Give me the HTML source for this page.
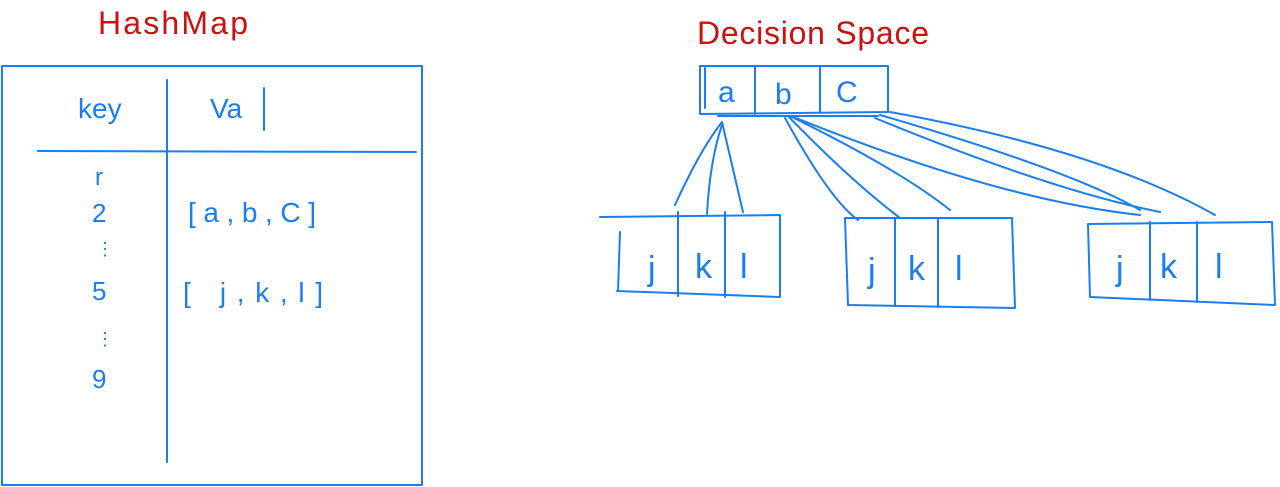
<!DOCTYPE html>
<html><head><meta charset="utf-8"><style>
html,body{margin:0;padding:0;background:#fff;width:1280px;height:487px;overflow:hidden}
svg{display:block}
text{font-family:"Liberation Sans",sans-serif}
</style></head><body>
<svg width="1280" height="487" viewBox="0 0 1280 487" xmlns="http://www.w3.org/2000/svg">
<g fill="none" stroke="#1a7ef0" stroke-width="2" stroke-linecap="round" stroke-linejoin="round">
<rect x="2" y="66" width="420" height="419"/>
<line x1="38" y1="151" x2="416" y2="152"/>
<line x1="167" y1="80" x2="167" y2="462"/>
<line x1="264" y1="88" x2="264" y2="130"/>
<path d="M700 66 L888 66 L888 112 L700 114 Z"/>
<line x1="705" y1="68" x2="705" y2="108"/>
<line x1="755" y1="66" x2="755" y2="114"/>
<line x1="820" y1="66" x2="820" y2="113"/>
<path d="M600 217 L780 215 L780 297 L617 291 M620 232 L618 291"/>
<line x1="678" y1="212" x2="678" y2="296"/>
<line x1="725" y1="212" x2="725" y2="297"/>
<path d="M845 218 L1012 218 L1015 308 L848 305 Z"/>
<line x1="895" y1="218" x2="895" y2="306"/>
<line x1="938" y1="218" x2="938" y2="307"/>
<path d="M1088 224 L1272 222 L1275 305 L1090 297 Z"/>
<line x1="1150" y1="222" x2="1150" y2="300"/>
<line x1="1197" y1="222" x2="1197" y2="302"/>
<path d="M718 116 L878 116"/>
<path d="M675 205 Q700 150 722 122 L743 212"/>
<path d="M707 214 Q710 160 722 125"/>
<path d="M785 118 Q830 200 858 220"/>
<path d="M788 116 Q850 180 900 218"/>
<path d="M790 116 Q900 170 950 210"/>
<path d="M796 118 Q1000 200 1140 215"/>
<path d="M875 118 Q1050 190 1160 212"/>
<path d="M890 112 Q1100 150 1215 215"/>
<path d="M880 115 Q1070 170 1140 210"/>
</g>
<g fill="#1a7ef0" font-size="30">
<text x="78" y="118" font-size="28">key</text>
<text x="210" y="118" font-size="28">Va</text>
<text x="95" y="185" font-size="24">r</text>
<text x="92" y="222" font-size="26">2</text>
<text x="96" y="255" font-size="18">⋮</text>
<text x="92" y="300" font-size="26">5</text>
<text x="96" y="345" font-size="18">⋮</text>
<text x="92" y="388" font-size="26">9</text>
<text x="188" y="222" font-size="28" textLength="128">[a,b,C]</text>
<text x="183" y="302" font-size="28" textLength="140">[ j,k,l]</text>
<text x="718" y="102">a</text>
<text x="775" y="104">b</text>
<text x="836" y="102">C</text>
<g font-size="34">
<text x="648" y="280">j</text><text x="695" y="278">k</text><text x="740" y="278">l</text>
<text x="868" y="282">j</text><text x="908" y="280">k</text><text x="955" y="280">l</text>
<text x="1116" y="280">j</text><text x="1160" y="278">k</text><text x="1215" y="278">l</text>
</g>
</g>
<g fill="#cc1111" font-size="32">
<text x="98" y="34" textLength="150">HashMap</text>
<text x="697" y="44" textLength="232">Decision Space</text>
</g>
</svg>
</body></html>
